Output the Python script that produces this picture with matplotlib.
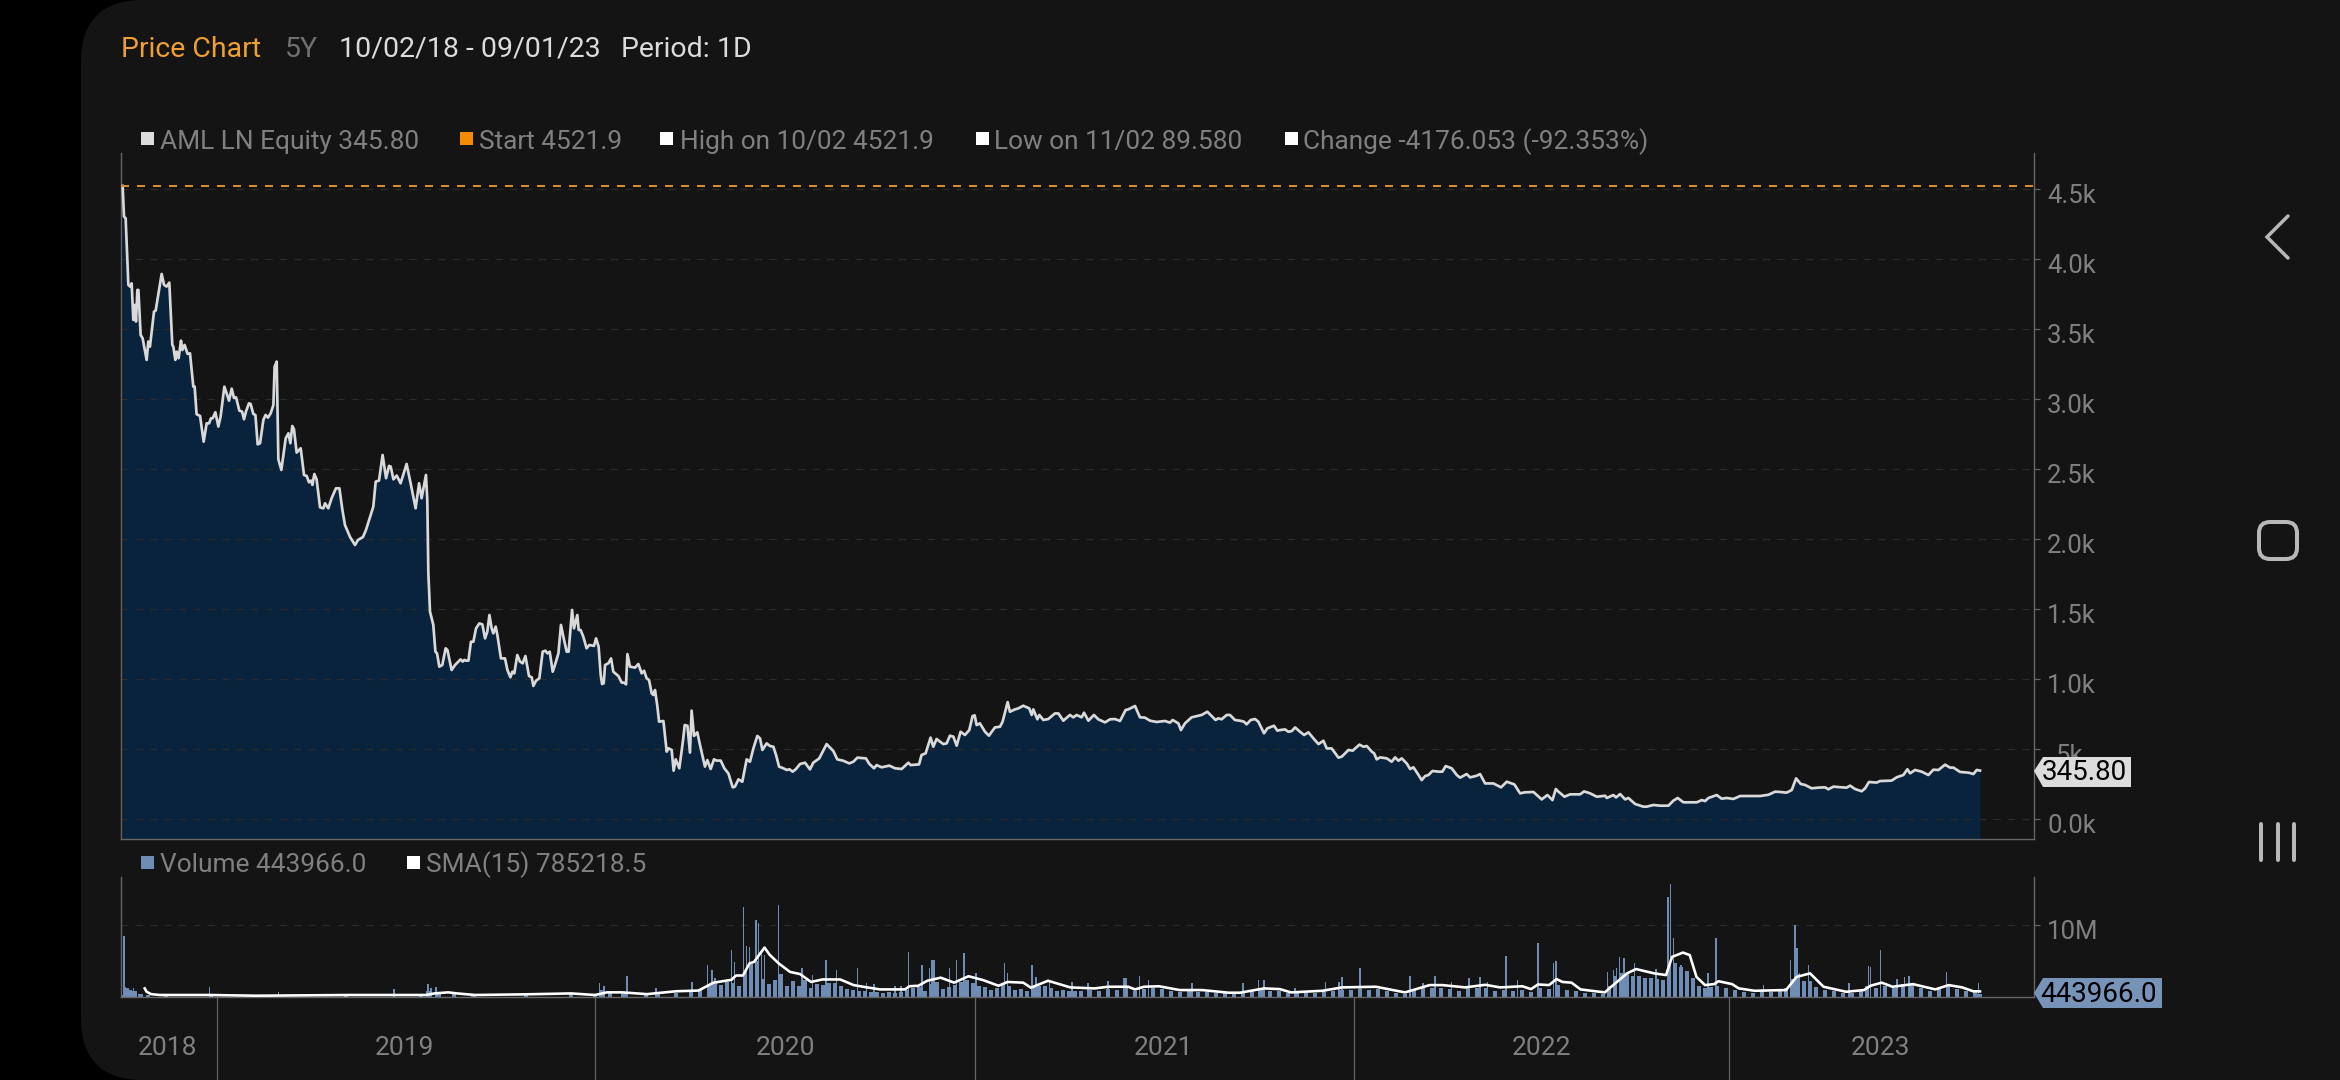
import matplotlib
matplotlib.use('Agg')
import matplotlib.pyplot as plt
from matplotlib.patches import FancyBboxPatch, Polygon, Rectangle
from matplotlib.transforms import ScaledTranslation

plt.rcParams['font.family'] = ['Roboto', 'DejaVu Sans']

# trading day number since the start of the window, price
price_days = [1.1,2,3.1,4.9,6,7.1,8.2,9.3,10,10.9,11.6,13.1,14.4,17.1,18.2,19.3,22,23.1,27.1,28.7,30.4,32.2,34.2,34.9,36.2,37.1,38.4,40,40.9,42.4,44.4,46,48.2,49.1,50.4,52.7,55.1,57.1,58.7,60,61.1,62.9,64.9,66.4,68.9,70.4,72,73.8,75.3,76.7,78.9,80.7,82,83.3,85.3,86.4,88.2,89.6,91.1,92.7,94.9,96.4,98,99.8,101.6,102.4,103.8,104.9,106.9,109.8,111.6,112.9,114.2,115.3,117.1,119.8,122,123.8,125.3,126.7,127.6,128.9,130.4,132.7,134.9,136,138.2,140.4,143.3,145.6,147.6,149.3,152.7,156,158,161.3,163.3,168.2,169.8,172,174.4,176.7,178.7,179.8,181.6,183.8,186.4,190.4,193.3,196.4,198.7,200.4,203.3,
    204.2,204.9,206,208.2,209.6,210.7,212.2,214.2,216.4,217.6,220.4,222.7,226.4,227.8,228.9,230,231.6,233.3,234.9,236.7,238.9,240.9,242.7,244.2,245.6,247.1,248.2,249.8,250.9,253.3,256,257.6,259.6,260.9,262.2,264.2,266,267.8,269.6,272,273.8,274.9,276.7,278.9,281.1,282.9,284.2,285.8,287.8,289.3,291.6,293.3,294.9,297.1,298.4,300.7,302,304.2,305.1,306.4,308.2,310.4,312.2,315.3,316.7,318.4,319.8,320.7,321.8,322.7,324.9,326.7,328.2,331.6,333.8,335.3,336.7,337.6,339.3,342.7,344.9,347.1,348.7,350.4,352,353.8,354.9,356,357.6,358.7,361.6,363.8,364.9,367.1,368.4,369.8,372.2,374.7,375.8,377.6,379.3,380.4,382,384.2,386,389.3,390.9,393.1,395.3,397.1,399.8,402.2,404.9,407.8,409.3,411.6,414.2,417.1,419.3,421.6,424.2,426,427.6,430.4,432.7,434.9,436.7,438.7,441.6,443.8,445.6,447.8,450,452.7,
    456,459.3,461.5,465.5,470.4,474.9,477.5,481.5,485.5,488.2,490.9,496.6,498.9,502,503.7,507.1,512.2,516,520.4,524.9,526.4,532,533.7,536.4,539.7,541.5,543.7,548.2,550.4,552.6,554.9,557.1,559.7,562.6,565.5,567.7,569.1,570.4,572.6,576,578.6,582.6,586,587.7,591.1,592.6,596,598.2,601.5,605.5,607.1,608.2,610.9,612.2,614.9,618.2,622.6,624.9,628.2,632.6,634.9,637.1,640.4,642,644.9,648.6,651.5,656,659.3,662.6,666,669.7,671.5,676,679.3,682.6,686,690.4,696,699.3,701.1,704.9,706.6,709.3,713.7,717.1,720.4,724.2,729.7,731.5,733.7,737.1,739.3,742.6,746,748.6,750.4,753.1,756,758.2,762,764.2,768.6,770.9,772.6,
    776,778.2,780.5,782.7,786,788.7,791.6,794.9,798.3,801.6,803.8,807.1,811.6,813.8,818.3,821.1,825.6,828.3,830.5,833.8,835.4,837.1,839.4,843.8,847.1,849.4,851.6,853.8,857.1,859.4,861.6,864.3,867.1,869.4,871.6,874.3,878.3,880.9,883.1,887.1,890.5,892.7,897.1,899.4,903.8,906,909.4,914.9,920,923.8,928.9,932.7,935.6,941.6,947.1,950.9,954.3,956.5,958.3,962.3,966,972.7,975.4,979.4,983.8,989.4,990.5,994.9,996.7,999.4,1002.7,1004.9,1009.4,1014.9,1017.1,1021.6,1026,1031.6,1034.9,1037.8,1041.6,1050.5,1053.8,1056,1058.3,1063.8,1067.1,1070.5,1074.9,1079.4,1092.7,1098.3,1102.7,1106,
    1110.4,1113.8,1116.7,1119.8,1122.7,1127.1,1131.6,1136,1138.2,1141.6,1147.1,1150.4,1152.7,1156,1160.4,1162.7,1165.3,1170.4,1172.7,1180.4,1183.8,1188.2,1190.9,1192.7,1196,1200.4,1204.9,1208.2,1211.6,1216,1219.3,1221.6,1226,1231.6,1234.9,1237.1,1239.3]
prices = [4521.9,4303,4291,3815,3803,3826,3565,3672,3553,3779,3779,3457,3434,3279,3410,3374,3624,3631,3893,3815,3803,3831,3386,3374,3279,3338,3291,3417,3350,3386,3322,3326,3088,3088,2891,2879,2695,2826,2826,2862,2862,2905,2803,2874,3088,3041,2988,3074,3007,3012,2917,2910,2855,2910,2969,2965,2893,2886,2676,2684,2850,2886,2867,2898,2957,3231,3267,2569,2493,2719,2755,2684,2807,2784,2617,2648,2457,2450,2405,2417,2386,2464,2426,2226,2219,2255,2219,2291,2362,2362,2207,2100,2014,1957,1993,2014,2064,2231,2410,2417,2600,2434,2522,2517,2426,2453,2398,2536,2386,2219,2398,2291,2457,
    2278,1755,1481,1386,1195,1183,1088,1100,1219,1207,1064,1100,1140,1124,1136,1131,1131,1266,1266,1362,1397,1390,1290,1338,1457,1362,1326,1374,1314,1147,1147,1064,1012,1052,1040,1171,1124,1112,1164,1021,1012,950,988,1005,1195,1202,1183,1195,1052,1100,1183,1386,1302,1195,1195,1493,1362,1457,1350,1350,1302,1219,1243,1236,1290,1231,1028,964,969,1100,1112,1147,1052,1021,974,974,962,1178,1088,1081,1107,1040,1059,1005,993,897,886,921,802,695,700,481,505,493,345,426,362,564,671,666,474,774,593,619,528,374,421,357,426,417,417,362,326,226,231,283,266,426,409,505,593,576,493,540,521,516,457,374,362,350,355,338,357,393,
    402,354,402,433,535,485,426,416,397,409,438,433,393,362,385,369,381,362,357,402,385,390,457,469,581,516,571,535,540,595,588,524,623,600,635,735,740,671,683,623,595,654,659,695,835,766,783,790,809,790,743,783,712,743,707,714,754,754,702,743,726,743,726,759,702,743,712,690,712,714,700,778,783,807,726,724,702,693,700,688,707,683,635,683,726,735,743,766,707,719,712,743,743,707,702,695,676,707,714,695,612,647,666,631,635,
    640,623,628,654,623,600,619,576,535,559,504,504,438,445,493,488,531,516,521,481,469,426,440,433,409,440,416,433,397,357,369,326,278,307,314,343,338,338,378,362,314,295,321,297,309,321,254,254,226,266,247,183,190,193,140,171,135,214,195,159,176,176,197,183,159,166,150,171,154,178,140,150,107,88,88,100,95,95,131,150,119,119,135,128,150,171,145,150,143,164,164,173,195,193,
    188,207,290,250,243,219,224,226,212,231,226,224,238,214,198,219,264,260,271,274,298,314,355,326,350,338,314,352,350,388,367,367,336,331,321,350,345.8]

# ordinary daily volume level, millions
vol_days = [0,3,6,9,13,18,30,60,100,150,200,205,212,222,235,270,300,316,320,326,335,350,358,370,380,386,392,396,400,404,408,412,416,420,424,428,432,436,440,444,448,452,456,460,464,468,472,476,480,484,488,492,496,500,504,508,512,516,520,524,528,532,536,540,544,548,552,556,560,564,568,572,576,580,584,588,592,596,600,604,608,612,616,620,624,628,632,636,640,646,652,658,664,670,676,682,688,694,700,706,712,718,724,730,736,742,748,754,760,766,772,778,784,790,796,802,808,814,820,826,832,838,844,850,856,862,868,874,880,886,892,898,904,910,916,922,928,934,940,946,952,958,964,970,976,982,988,992,996,1000,1004,1008,1012,1016,1020,1024,1028,1032,1036,1040,1044,1048,1052,1056,1060,1064,1070,1076,1082,1088,1094,1100,1106,1110,1114,1118,1122,1126,1130,1136,1142,1148,1154,1160,1164,1170,1176,1182,1188,1194,1200,1206,1212,1218,1224,1230,1236,1239]
vol_vals = [.3,1.2,1.0,.8,.4,.25,.2,.2,.2,.25,.25,.8,.6,.4,.2,.3,.35,.2,1.0,.6,.5,.3,.6,.6,.9,1.1,1.5,1.9,1.7,2.1,2.0,1.5,3.5,4.6,5,2.5,1.8,2.4,3.2,1.6,2.2,1.6,2.4,1.3,1.8,1.7,1.9,2.0,1.5,1.1,1.0,.9,.9,.7,.7,.6,.7,.6,.7,1.0,1.2,1.4,.9,1.8,2.1,1.1,1.4,1.7,2.1,2.4,2.0,1.6,1.4,1.0,1.2,1.8,1.5,1.0,1.1,.9,1.4,1.6,1.5,1.3,.9,1.0,.8,.9,.9,1.0,.9,1.1,1.0,1.2,.8,1.1,1.2,1.1,.8,.7,.8,.7,.7,.5,.5,.4,.6,.9,1.0,.8,.8,.5,.5,.6,.6,.8,.9,1.0,1.0,1.1,1.0,1.1,.8,.5,.4,1.0,1.3,1.3,1.2,1.1,.9,1.2,1.3,1.2,.9,1.0,.9,1.0,.7,1.2,1.1,1.7,1.0,.8,.6,.5,.4,1.6,3.0,3.4,3.2,3.0,2.9,2.7,2.6,2.5,2.4,4.5,4.8,4.2,3.6,2.6,1.6,1.2,1.4,1.6,1.3,1.0,.7,.6,.7,.7,.8,1.2,2.5,3.2,2.2,2.2,1.4,1.0,.8,.6,.6,.8,1.6,1.2,1.6,1.3,1.8,1.7,1.3,.9,1.1,1.6,1.1,.8,.7,.44]

# the days that stand out above that level
spike_days = [2,3,5,8.3,59,105,182,204.5,206.5,210,319,322,337.5,356.5,380.6,391,394,396,407,409,415,417,419,423.5,425,427,429,438.4,
    454,461,470,477,491,497,502,516,520,525,534,539,540.5,542,552.4,557,562,570,589,591,607.5,610,619,634,644.7,658,668.5,670,679,685,714,748,758.4,762,782.5,803,812,814,826,859.5,868,876,887,898.5,906,911,
    923.5,931,944.6,955,956.5,991,995,997,999,1002,1009,1023.5,1031.5,1033,1035,1037,1040,1058,1063.4,1095,1113,1116,1117.2,1119,1125,1152,1165,1166.3,1173,1184,1189,1192,1217,1238.3]
spike_vals = [8.5,1.4,1.2,1.2,1.4,.65,1.1,1.75,1.2,1.35,2.0,1.5,2.9,1.3,2.1,4.5,3.7,2.6,6.55,4.9,12.6,7.1,7.0,10.8,10.3,6.5,5.9,12.9,
    4,3.1,5.2,3.8,4,1.9,1.8,1.5,1.5,6.3,4.5,4,5.2,5.2,4,5.2,6.1,3.3,4.7,3.3,4.4,2.8,2.4,2.1,1.9,2.3,2.6,2.7,2.9,2.4,2,1.9,2.4,2.4,1.3,2.1,2.1,2.8,4,3,1.9,2.9,2.1,2.6,2.8,2.1,
    5.7,2.4,7.5,4.7,5,3.5,3.8,4,5.6,5.4,4.7,3.9,14,15.8,8.2,4.7,4.5,3.3,8.3,1.7,5.1,10,6.9,3.3,4.5,1.9,4.3,4.2,6.5,2.5,2.8,3,3.5,1.9]

sma_days = [15.8,17,20,26,59,90,152.7,203,209,218,224,236,269,300,316,324,334,350.6,370,385,395,407,410,414.6,419,422,429,432.4,438.4,446,452.7,460,467.6,479.5,488.4,497.3,506,522.6,525.6,531.6,537.5,546.5,555.4,565,574.7,585,591,601.5,606.6,618,632.8,649,658,671.4,676,682,692,705.7,720.6,738.4,746,762,772.6,780,801,814,836.6,856,872.3,881,896,909.5,919.4,934.2,940,944.6,952,957,961,967,973,989.2,992.2,1004,1010,1022,1030,1034,1041.3,1045.8,1050.3,1056,1062,1065,1074,1078.5,1089,1110,1117,1126,1135,1150,1162,1166.3,1173.8,1181,1194.6,1209.5,1218.4,1227.4,1234.8,1239.3]
sma_vals = [1.2,.75,.4,.28,.28,.18,.28,.28,.5,.65,.5,.28,.37,.5,.28,.65,.65,.4,.8,.9,2,2.4,3,3,4.7,4.9,6.9,5.9,4.7,3.5,3.2,2.1,2.45,2.45,1.66,1.34,1.06,1.06,1.5,1.57,2.27,2.7,2,2.9,2.36,1.57,2.1,2,1.3,2.27,1.34,1.2,1.43,1.43,1.06,1.43,1.5,.97,.97,.6,.6,1.2,1.1,.64,.87,1.34,1.43,.64,1.66,1.66,1.34,1.7,1.34,1.5,1.1,1.75,1.66,2.5,2.1,2,1.06,.64,1.2,3.3,3.9,3.3,3.06,5.6,6.2,5.85,2.8,1.66,1.8,2.2,1.8,1.2,.87,.97,2.8,3.3,1.43,.73,.97,1.57,2,1.43,1.8,1.06,1.66,1.34,.8,.785]

price_ticks = [0,500,1000,1500,2000,2500,3000,3500,4000,4500]
price_labels = ['0.0k','5k','1.0k','1.5k','2.0k','2.5k','3.0k','3.5k','4.0k','4.5k']
year_days = [63.7,316,569.6,822,1072]
year_names = ['2018','2019','2020','2021','2022','2023']
year_centres = [31,189,443,695,947,1173]

BG = '#141414'
FILL = '#0a233c'
GRID = '#2b2b2b'
AXIS = '#666666'
GREY = '#808080'
VOL = '#6f8cb4'
PX = 0.72  # one pixel in points at dpi 100

W, H = 2340, 1080
fig = plt.figure(figsize=(W/100, H/100), dpi=100, facecolor='black')

def box(left, top, right, bottom):
    return [left/W, 1-bottom/H, (right-left)/W, (bottom-top)/H]

back = fig.add_axes([0,0,1,1], zorder=-1)
back.set_xlim(0,W); back.set_ylim(H,0); back.axis('off')
back.add_patch(FancyBboxPatch((81,0), 2600, H, boxstyle='round,pad=0,rounding_size=62', fc=BG, ec='none'))

ax = fig.add_axes(box(121,153,2034,839), facecolor='none')
ax.set_xlim(0,1275.3)
ax.set_ylim(-143,4757)
ax.fill_between(price_days, prices, -143, color=FILL, lw=0, zorder=1)
ax.set_yticks(price_ticks)
ax.set_yticklabels(price_labels)
ax.grid(axis='y', color=GRID, lw=1.2*PX, dashes=(6,6), zorder=2)
ax.plot(price_days, prices, color='#d9d9d9', lw=2.7*PX, zorder=3)
ax.axhline(4521.9, color='#d98a35', lw=2*PX, dashes=(4,4), zorder=4)

vax = fig.add_axes(box(121,877,2034,997), facecolor='none')
vax.set_xlim(0,1275.3)
vax.set_ylim(0,16.75)
vax.bar(vol_days, vol_vals, width=3, color=VOL, lw=0, zorder=2)
vax.bar(spike_days, spike_vals, width=1.1, color=VOL, lw=0, zorder=2)
vax.plot(sma_days, sma_vals, color='white', lw=2.6*PX, zorder=3)
vax.set_yticks([10])
vax.set_yticklabels(['10M'])
vax.grid(axis='y', color=GRID, lw=1.2*PX, dashes=(6,6), zorder=1)
for d in year_days:
    vax.plot([d,d],[0,-0.7], transform=vax.get_xaxis_transform(), clip_on=False, color=AXIS, lw=1.2*PX)
for d,name in zip(year_centres, year_names):
    vax.text(d, -0.425, name, transform=vax.get_xaxis_transform(), ha='center', va='center', color=GREY, fontsize=19)

for a in (ax, vax):
    a.yaxis.tick_right()
    a.set_xticks([])
    a.tick_params(axis='y', length=4, width=1.2*PX, color=AXIS, labelcolor=GREY, labelsize=18.5, pad=5.5)
    a.spines['top'].set_visible(False)
    for side in ('left','right','bottom'):
        a.spines[side].set_color(AXIS)
        a.spines[side].set_linewidth(1.4*PX)

# labels sit a little below their ticks
for a in (ax, vax):
    for lab in a.get_yticklabels():
        shift = ScaledTranslation(8/100 if lab.get_text()=='5k' else 0, -4.5/100, fig.dpi_scale_trans)
        lab.set_transform(lab.get_transform()+shift)

over = fig.add_axes([0,0,1,1], zorder=10, facecolor='none')
over.set_xlim(0,W); over.set_ylim(H,0); over.axis('off')

head = [(121,'Price Chart','#f0a030'),(285,'5Y','#707070'),(339,'10/02/18 - 09/01/23','#dcdcdc'),(621,'Period: 1D','#dcdcdc')]
for x,t,c in head:
    over.text(x, 49.5, t, color=c, fontsize=20.5, va='center')

legend1 = [(141,160,'AML LN Equity 345.80','#dcdcdc'),(460,479,'Start 4521.9','#f58a07'),(660,680,'High on 10/02 4521.9','white'),(976,994,'Low on 11/02 89.580','white'),(1285,1303,'Change -4176.053 (-92.353%)','white')]
for sx,tx,t,c in legend1:
    over.add_patch(Rectangle((sx,132), 12.5, 13, fc=c, ec='none'))
    over.text(tx, 142, t, color=GREY, fontsize=18.9, va='center')
legend2 = [(141,160,'Volume 443966.0',VOL),(407,426,'SMA(15) 785218.5','white')]
for sx,tx,t,c in legend2:
    over.add_patch(Rectangle((sx,856), 12.5, 13, fc=c, ec='none'))
    over.text(tx, 865, t, color=GREY, fontsize=18.9, va='center')

# value tags on the right axis
over.add_patch(Polygon([(2034,771),(2043,757),(2131,757),(2131,787),(2043,787)], fc='#dcdcdc', ec='none'))
over.text(2084.5, 773, '345.80', color='black', fontsize=20, ha='center', va='center')
over.add_patch(Polygon([(2034,993),(2043,978),(2162,978),(2162,1008),(2043,1008)], fc='#7793b8', ec='none'))
over.text(2099, 995, '443966.0', color='black', fontsize=20, ha='center', va='center')

# phone navigation bar
NAV = '#b8b8b8'
over.plot([2288,2267,2288],[216,237,258], color=NAV, lw=3.5*PX, solid_capstyle='round', solid_joinstyle='miter')
over.add_patch(FancyBboxPatch((2259,522), 38, 37, boxstyle='round,pad=0,rounding_size=11', fc='none', ec=NAV, lw=4*PX))
for x in (2261,2278,2294):
    over.plot([x,x],[824,860], color=NAV, lw=4*PX, solid_capstyle='round')

fig.savefig('out.png', dpi=100, facecolor=fig.get_facecolor())
